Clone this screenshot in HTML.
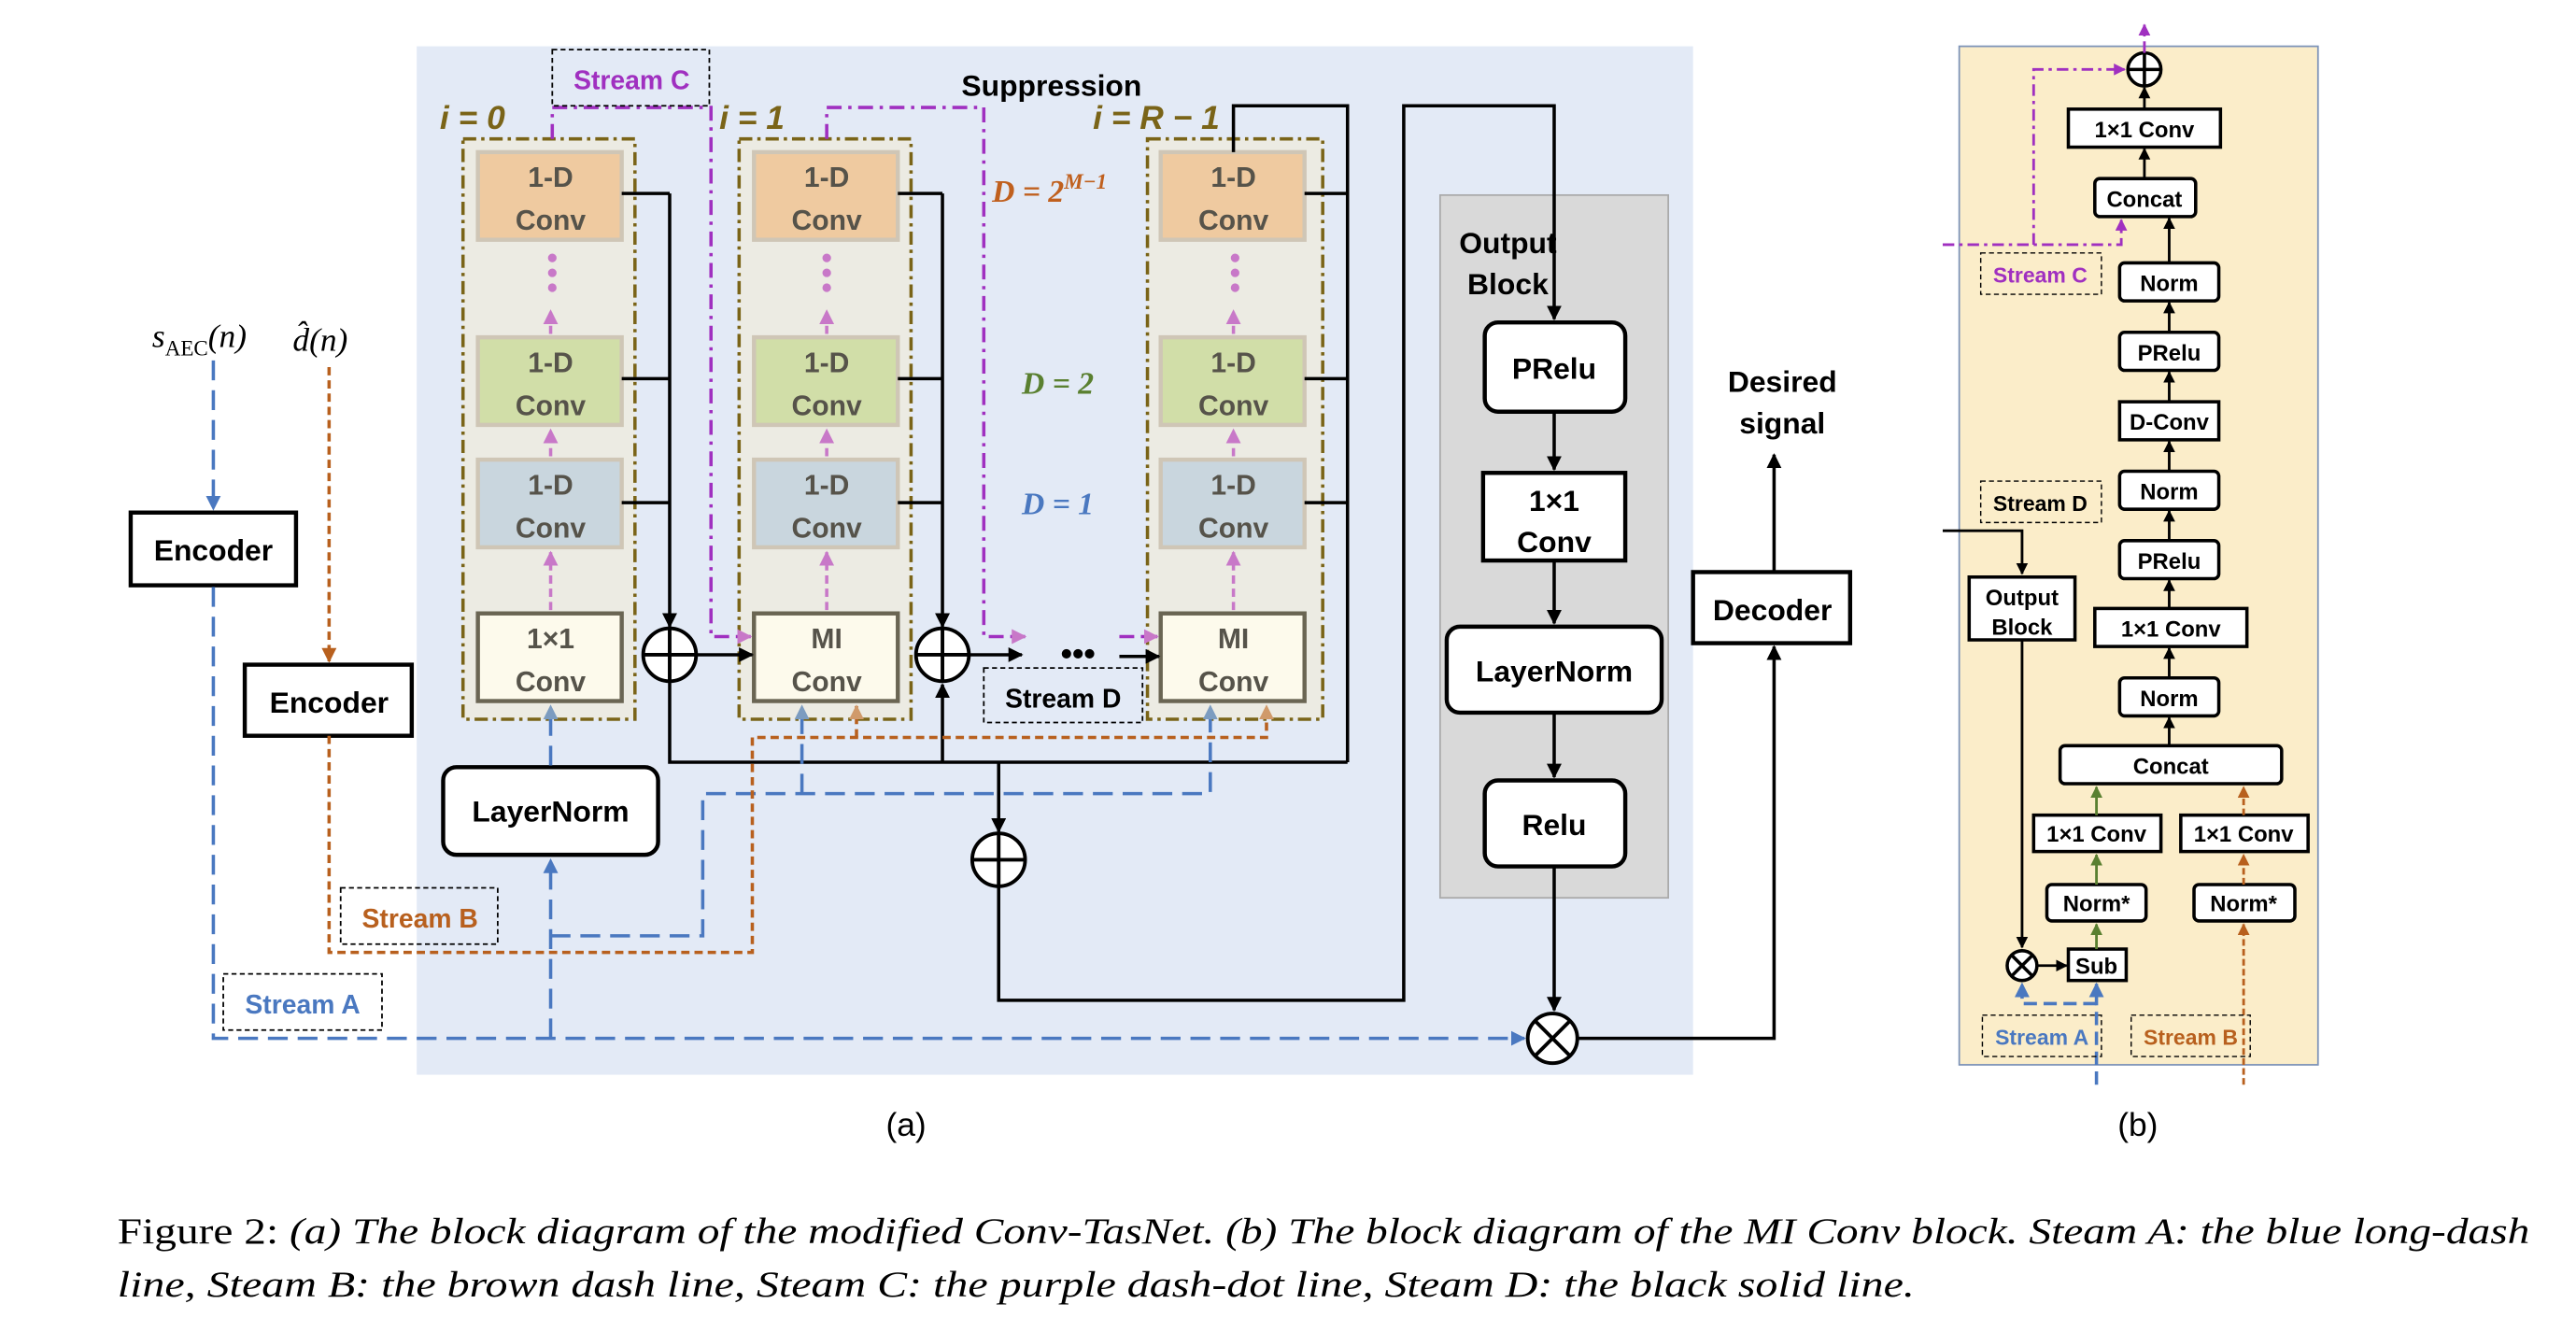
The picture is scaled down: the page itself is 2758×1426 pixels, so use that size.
<!DOCTYPE html>
<html><head><meta charset="utf-8"><style>
html,body{margin:0;padding:0;background:#fff;}
svg{display:block;}
text{font-family:"Liberation Sans",sans-serif;}
.b{font-weight:bold;}
.bx{font-weight:bold;font-size:17px;fill:#56534a;text-anchor:middle;}
.k{font-weight:bold;text-anchor:middle;fill:#000;}
.m{font-family:"Liberation Serif",serif;font-style:italic;}
</style></head><body>
<svg width="2758" height="1426" viewBox="0 0 1558 805.6" xmlns="http://www.w3.org/2000/svg">
<defs>
<marker id="ak" viewBox="0 0 10 10" refX="9" refY="5" markerWidth="4.5" markerHeight="4.5" orient="auto"><path d="M0,0L10,5L0,10z" fill="#000"/></marker>
<marker id="ab" viewBox="0 0 10 10" refX="9" refY="5" markerWidth="4.5" markerHeight="4.5" orient="auto"><path d="M0,0L10,5L0,10z" fill="#4a78c0"/></marker>
<marker id="ab2" viewBox="0 0 10 10" refX="9" refY="5" markerWidth="4.5" markerHeight="4.5" orient="auto"><path d="M0,0L10,5L0,10z" fill="#7c9cc0"/></marker>
<marker id="ao" viewBox="0 0 10 10" refX="9" refY="5" markerWidth="4.5" markerHeight="4.5" orient="auto"><path d="M0,0L10,5L0,10z" fill="#b8601e"/></marker>
<marker id="ao2" viewBox="0 0 10 10" refX="9" refY="5" markerWidth="4.5" markerHeight="4.5" orient="auto"><path d="M0,0L10,5L0,10z" fill="#d09a6a"/></marker>
<marker id="ap" viewBox="0 0 10 10" refX="9" refY="5" markerWidth="4.5" markerHeight="4.5" orient="auto"><path d="M0,0L10,5L0,10z" fill="#a030c0"/></marker>
<marker id="ap2" viewBox="0 0 10 10" refX="9" refY="5" markerWidth="4.5" markerHeight="4.5" orient="auto"><path d="M0,0L10,5L0,10z" fill="#c878c8"/></marker>
<marker id="ag" viewBox="0 0 10 10" refX="9" refY="5" markerWidth="4.5" markerHeight="4.5" orient="auto"><path d="M0,0L10,5L0,10z" fill="#5a8030"/></marker>
</defs>

<!-- backgrounds -->
<rect x="252" y="28" width="772" height="622" fill="#e3eaf6"/>
<rect x="871" y="118" width="138" height="425" fill="#d9d9d9" stroke="#aaa" stroke-width="1"/>
<rect x="1185" y="28" width="217" height="616" fill="#fbedc9" stroke="#7d93b8" stroke-width="1"/>

<!-- block containers -->
<g fill="#ecebe3" stroke="#7a6418" stroke-width="2" stroke-dasharray="8,3,2,3">
<rect x="280" y="84" width="104" height="351"/>
<rect x="447" y="84" width="104" height="351"/>
<rect x="694" y="84" width="106" height="351"/>
</g>
<!-- inner boxes -->
<g stroke="#cfc6b6" stroke-width="2.5">
<rect x="289" y="92" width="87" height="53" fill="#efcaa0"/>
<rect x="289" y="204" width="87" height="53" fill="#d1dea8"/>
<rect x="289" y="278" width="87" height="53" fill="#c9d6de"/>
<rect x="456" y="92" width="87" height="53" fill="#efcaa0"/>
<rect x="456" y="204" width="87" height="53" fill="#d1dea8"/>
<rect x="456" y="278" width="87" height="53" fill="#c9d6de"/>
<rect x="702" y="92" width="87" height="53" fill="#efcaa0"/>
<rect x="702" y="204" width="87" height="53" fill="#d1dea8"/>
<rect x="702" y="278" width="87" height="53" fill="#c9d6de"/>
</g>
<g stroke="#6a6553" stroke-width="2.5" fill="#fdfaec">
<rect x="289" y="371" width="87" height="53"/>
<rect x="456" y="371" width="87" height="53"/>
<rect x="702" y="371" width="87" height="53"/>
</g>
<g class="bx">
<text x="333" y="113">1-D</text><text x="333" y="139">Conv</text>
<text x="333" y="225">1-D</text><text x="333" y="251">Conv</text>
<text x="333" y="299">1-D</text><text x="333" y="325">Conv</text>
<text x="333" y="392">1×1</text><text x="333" y="418">Conv</text>
<text x="500" y="113">1-D</text><text x="500" y="139">Conv</text>
<text x="500" y="225">1-D</text><text x="500" y="251">Conv</text>
<text x="500" y="299">1-D</text><text x="500" y="325">Conv</text>
<text x="500" y="392">MI</text><text x="500" y="418">Conv</text>
<text x="746" y="113">1-D</text><text x="746" y="139">Conv</text>
<text x="746" y="225">1-D</text><text x="746" y="251">Conv</text>
<text x="746" y="299">1-D</text><text x="746" y="325">Conv</text>
<text x="746" y="392">MI</text><text x="746" y="418">Conv</text>
</g>
<!-- internal purple arrows and dots -->
<g stroke="#c878c8" stroke-width="2" stroke-dasharray="5,3">
<path d="M333,202 L333,188" marker-end="url(#ap2)"/><path d="M333,276 L333,260" marker-end="url(#ap2)"/><path d="M333,369 L333,334" marker-end="url(#ap2)"/>
<path d="M500,202 L500,188" marker-end="url(#ap2)"/><path d="M500,276 L500,260" marker-end="url(#ap2)"/><path d="M500,369 L500,334" marker-end="url(#ap2)"/>
<path d="M746,202 L746,188" marker-end="url(#ap2)"/><path d="M746,276 L746,260" marker-end="url(#ap2)"/><path d="M746,369 L746,334" marker-end="url(#ap2)"/>
</g>
<g fill="#c878c8">
<circle cx="334" cy="156" r="2.6"/><circle cx="334" cy="165" r="2.6"/><circle cx="334" cy="174" r="2.6"/>
<circle cx="500" cy="156" r="2.6"/><circle cx="500" cy="165" r="2.6"/><circle cx="500" cy="174" r="2.6"/>
<circle cx="747" cy="156" r="2.6"/><circle cx="747" cy="165" r="2.6"/><circle cx="747" cy="174" r="2.6"/>
</g>

<!-- black buses -->
<g stroke="#000" stroke-width="2" fill="none">
<path d="M376,117H405M376,229H405M376,304H405"/>
<path d="M405,117V379" marker-end="url(#ak)"/>
<path d="M405,412V461H815"/>
<path d="M543,117H570M543,229H570M543,304H570"/>
<path d="M570,117V379" marker-end="url(#ak)"/>
<path d="M570,461V414" marker-end="url(#ak)"/>
<path d="M789,117H815M789,229H815M789,304H815"/>
<path d="M746,92V64H815V461"/>
<path d="M421,396H455" marker-end="url(#ak)"/>
<path d="M586,396H618" marker-end="url(#ak)"/>
<path d="M677,397H701" marker-end="url(#ak)"/>
<path d="M604,461V503" marker-end="url(#ak)"/>
<path d="M604,536V605H849V64H940V193" marker-end="url(#ak)"/>
<path d="M940,249V284" marker-end="url(#ak)"/>
<path d="M940,339V377" marker-end="url(#ak)"/>
<path d="M940,431V470" marker-end="url(#ak)"/>
<path d="M940,524V611" marker-end="url(#ak)"/>
<path d="M955,628H1073V391" marker-end="url(#ak)"/>
<path d="M1073,346V275" marker-end="url(#ak)"/>
</g>
<g stroke="#000" stroke-width="2.2" fill="#fff">
<circle cx="405" cy="396" r="16"/><circle cx="570" cy="396" r="16"/><circle cx="604" cy="520" r="16"/><circle cx="939" cy="628" r="15"/>
</g>
<path d="M389,396H421M405,380V412M554,396H586M570,380V412M588,520H620M604,504V536M928,617L950,639M950,617L928,639" stroke="#000" stroke-width="2.2"/>
<text x="652" y="402" class="k" style="font-size:20px">•••</text>

<!-- output block boxes -->
<g stroke="#000" stroke-width="2.5" fill="#fff">
<rect x="898" y="195" width="85" height="54" rx="8"/>
<rect x="897" y="286" width="86" height="53"/>
<rect x="875" y="379" width="130" height="52" rx="8"/>
<rect x="898" y="472" width="85" height="52" rx="8"/>
<rect x="1024" y="346" width="95" height="43"/>
<rect x="79" y="310" width="100" height="44"/>
<rect x="148" y="402" width="101" height="43"/>
<rect x="268" y="464" width="130" height="53" rx="8"/>
</g>
<g class="k" style="font-size:18px">
<text x="940" y="229">PRelu</text>
<text x="940" y="309">1×1</text><text x="940" y="334">Conv</text>
<text x="940" y="412">LayerNorm</text>
<text x="940" y="505">Relu</text>
<text x="1072" y="375">Decoder</text>
<text x="129" y="339">Encoder</text>
<text x="199" y="431">Encoder</text>
<text x="333" y="497">LayerNorm</text>
<text x="912" y="153">Output</text><text x="912" y="178">Block</text>
<text x="1078" y="237">Desired</text><text x="1078" y="262">signal</text>
<text x="636" y="58">Suppression</text>
</g>

<!-- stream A blue -->
<g stroke="#4a78c0" stroke-width="2" fill="none" stroke-dasharray="12,6">
<path d="M129,218V308" marker-end="url(#ab)"/>
<path d="M129,355V628H922" marker-end="url(#ab)"/>
<path d="M333,628V520" marker-end="url(#ab)"/>
<path d="M333,463V427" marker-end="url(#ab2)"/>
<path d="M333,566H425V480H732V427" marker-end="url(#ab2)"/>
<path d="M485,480V427" marker-end="url(#ab2)"/>
</g>
<!-- stream B brown -->
<g stroke="#b8601e" stroke-width="2" fill="none" stroke-dasharray="5,3">
<path d="M199,222V400" marker-end="url(#ao)"/>
<path d="M199,445V576H455V446H766V427" marker-end="url(#ao2)"/>
<path d="M518,446V427" marker-end="url(#ao2)"/>
</g>
<!-- stream C purple -->
<g stroke="#a030c0" stroke-width="2" fill="none" stroke-dasharray="9,4,2,4">
<path d="M334,84V65H430V385H454" marker-end="url(#ap2)"/>
<path d="M500,84V65H595V385H620" marker-end="url(#ap2)"/>
<path d="M677,385H700" marker-end="url(#ap2)"/>
</g>

<!-- labels -->
<g fill="none" stroke="#000" stroke-width="1" stroke-dasharray="3,2">
<rect x="334" y="30" width="95" height="34"/>
<rect x="595" y="404" width="96" height="33"/>
<rect x="206" y="537" width="95" height="34"/>
<rect x="135" y="589" width="96" height="34"/>
</g>
<text x="382" y="54" class="k" style="font-size:16px;fill:#a030c0">Stream C</text>
<text x="643" y="428" class="k" style="font-size:16px">Stream D</text>
<text x="254" y="561" class="k" style="font-size:16px;fill:#b8601e">Stream B</text>
<text x="183" y="613" class="k" style="font-size:16px;fill:#4a78c0">Stream A</text>

<g class="m" style="font-size:20px;fill:#7a6418;font-weight:bold">
<text x="266" y="78">i = 0</text><text x="435" y="78">i = 1</text><text x="661" y="78">i = R − 1</text>
</g>
<text x="600" y="122" class="m" style="font-size:19px;fill:#c0601e;font-weight:bold">D  = 2<tspan dy="-8" style="font-size:13px">M−1</tspan></text>
<text x="618" y="238" class="m" style="font-size:19px;fill:#5a8030;font-weight:bold">D  = 2</text>
<text x="618" y="311" class="m" style="font-size:19px;fill:#4a78c0;font-weight:bold">D  = 1</text>
<text x="92" y="210" class="m" style="font-size:20px">s<tspan dy="5" style="font-size:13px;font-style:normal">AEC</tspan><tspan dy="-5">(n)</tspan></text>
<text x="177" y="212" class="m" style="font-size:20px">d̂(n)</text>

<!-- panel b -->
<g stroke="#000" stroke-width="2" fill="#fff">
<rect x="1251" y="66" width="92" height="23"/>
<rect x="1267" y="108" width="61" height="23" rx="3"/>
<rect x="1282" y="159" width="60" height="23" rx="3"/>
<rect x="1282" y="201" width="60" height="23" rx="3"/>
<rect x="1282" y="243" width="60" height="23"/>
<rect x="1282" y="285" width="60" height="23" rx="3"/>
<rect x="1282" y="327" width="60" height="23" rx="3"/>
<rect x="1267" y="368" width="92" height="23"/>
<rect x="1282" y="410" width="60" height="23" rx="3"/>
<rect x="1246" y="451" width="134" height="23" rx="3"/>
<rect x="1230" y="493" width="77" height="22"/>
<rect x="1319" y="493" width="77" height="22"/>
<rect x="1238" y="535" width="60" height="22" rx="3"/>
<rect x="1327" y="535" width="61" height="22" rx="3"/>
<rect x="1251" y="574" width="35" height="19"/>
<rect x="1191" y="349" width="64" height="38"/>
</g>
<g class="k" style="font-size:13.5px">
<text x="1297" y="83">1×1 Conv</text>
<text x="1297" y="125">Concat</text>
<text x="1312" y="176">Norm</text>
<text x="1312" y="218">PRelu</text>
<text x="1312" y="260">D-Conv</text>
<text x="1312" y="302">Norm</text>
<text x="1312" y="344">PRelu</text>
<text x="1313" y="385">1×1 Conv</text>
<text x="1312" y="427">Norm</text>
<text x="1313" y="468">Concat</text>
<text x="1268" y="509">1×1 Conv</text>
<text x="1357" y="509">1×1 Conv</text>
<text x="1268" y="551">Norm*</text>
<text x="1357" y="551">Norm*</text>
<text x="1268" y="589">Sub</text>
<text x="1223" y="366">Output</text><text x="1223" y="384">Block</text>
</g>
<g stroke="#000" stroke-width="1.6" fill="none">
<path d="M1297,66V53" marker-end="url(#ak)"/>
<path d="M1297,108V90" marker-end="url(#ak)"/>
<path d="M1312,159V132" marker-end="url(#ak)"/>
<path d="M1312,201V183" marker-end="url(#ak)"/>
<path d="M1312,243V225" marker-end="url(#ak)"/>
<path d="M1312,285V267" marker-end="url(#ak)"/>
<path d="M1312,327V309" marker-end="url(#ak)"/>
<path d="M1312,368V351" marker-end="url(#ak)"/>
<path d="M1312,410V392" marker-end="url(#ak)"/>
<path d="M1312,451V434" marker-end="url(#ak)"/>
<path d="M1175,321H1223V347" marker-end="url(#ak)"/>
<path d="M1223,387V573" marker-end="url(#ak)"/>
<path d="M1232,584H1250" marker-end="url(#ak)"/>
</g>
<circle cx="1297" cy="42" r="10" fill="#fff" stroke="#000" stroke-width="2"/>
<path d="M1287,42H1307M1297,32V52" stroke="#000" stroke-width="2"/>
<circle cx="1223" cy="584" r="9" fill="#fff" stroke="#000" stroke-width="2"/>
<path d="M1217,578L1229,590M1229,578L1217,590" stroke="#000" stroke-width="2"/>
<g stroke="#5a8030" stroke-width="1.6" fill="none">
<path d="M1268,574V559" marker-end="url(#ag)"/>
<path d="M1268,535V517" marker-end="url(#ag)"/>
<path d="M1268,493V476" marker-end="url(#ag)"/>
</g>
<g stroke="#b8601e" stroke-width="1.6" fill="none" stroke-dasharray="4,2">
<path d="M1357,656V559" marker-end="url(#ao)"/>
<path d="M1357,535V517" marker-end="url(#ao)"/>
<path d="M1357,493V476" marker-end="url(#ao)"/>
</g>
<g stroke="#4a78c0" stroke-width="2" fill="none" stroke-dasharray="8,4">
<path d="M1268,656V595" marker-end="url(#ab)"/>
<path d="M1268,607H1223V595" marker-end="url(#ab)"/>
</g>
<g stroke="#a030c0" stroke-width="1.6" fill="none" stroke-dasharray="7,3,2,3">
<path d="M1175,148H1283V133" marker-end="url(#ap)"/>
<path d="M1230,148V42H1285" marker-end="url(#ap)"/>
<path d="M1297,32V15" marker-end="url(#ap)"/>
</g>
<g fill="none" stroke="#000" stroke-width="0.8" stroke-dasharray="3,2">
<rect x="1198" y="153" width="73" height="25"/>
<rect x="1198" y="291" width="73" height="25"/>
<rect x="1199" y="614" width="72" height="25"/>
<rect x="1289" y="614" width="72" height="25"/>
</g>
<text x="1234" y="171" class="k" style="font-size:13px;fill:#a030c0">Stream C</text>
<text x="1234" y="309" class="k" style="font-size:13px">Stream D</text>
<text x="1235" y="632" class="k" style="font-size:13px;fill:#4a78c0">Stream A</text>
<text x="1325" y="632" class="k" style="font-size:13px;fill:#b8601e">Stream B</text>

<!-- captions -->
<g style="font-family:'Liberation Serif',serif;font-size:20px;text-anchor:middle">
<text x="548" y="687">(a)</text><text x="1293" y="687">(b)</text>
</g>
<text x="71" y="752" style="font-family:'Liberation Serif',serif;font-size:22px" textLength="1459" lengthAdjust="spacingAndGlyphs">Figure 2: <tspan font-style="italic">(a) The block diagram of the modified Conv-TasNet. (b) The block diagram of the MI Conv block. Steam A: the blue long-dash</tspan></text>
<text x="71" y="784" style="font-family:'Liberation Serif',serif;font-size:22px;font-style:italic" textLength="1087" lengthAdjust="spacingAndGlyphs">line, Steam B: the brown dash line, Steam C: the purple dash-dot line, Steam D: the black solid line.</text>
</svg>
</body></html>
